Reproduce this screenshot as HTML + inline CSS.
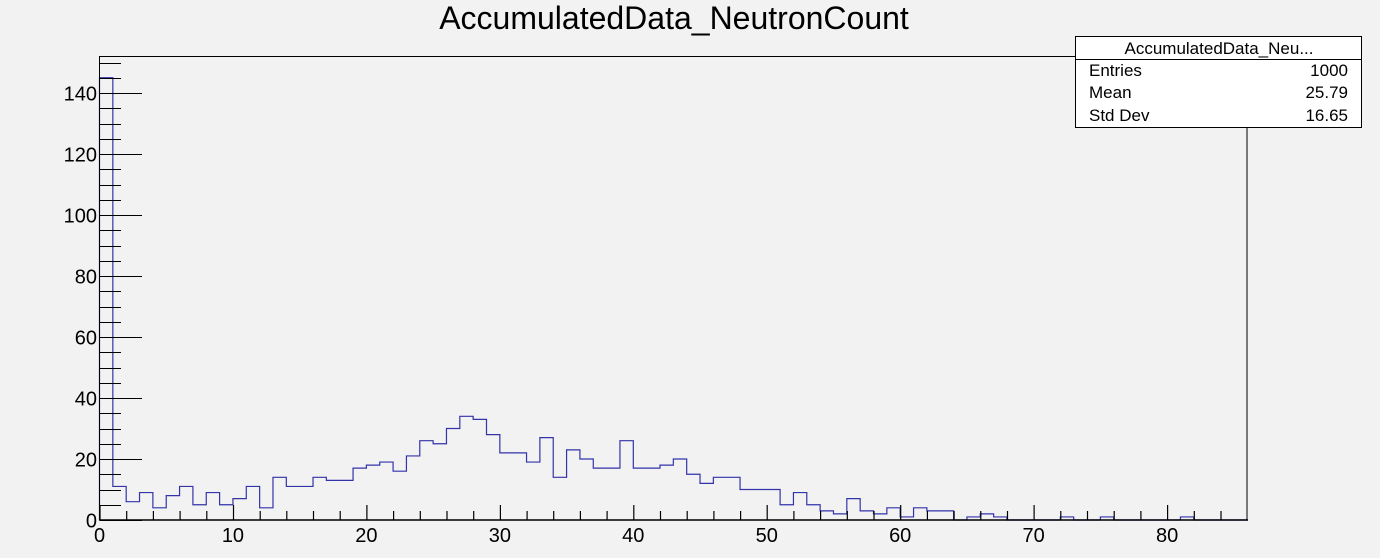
<!DOCTYPE html>
<html><head><meta charset="utf-8"><style>
body{margin:0;background:#f2f2f2;}
svg{display:block;font-family:"Liberation Sans",sans-serif;}
</style></head><body>
<svg id="s" width="1380" height="558" xmlns="http://www.w3.org/2000/svg">
<rect width="1380" height="558" fill="#f2f2f2"/>
<text x="674" y="29" font-size="32" text-anchor="middle" fill="#000">AccumulatedData_NeutronCount</text>
<path id="h" fill="none" stroke="#3333aa" stroke-width="1.2"/>
<rect x="99.5" y="56.5" width="1147.5" height="463.5" fill="none" stroke="#000" stroke-width="1"/>
<line x1="99" y1="520" x2="1248" y2="520" stroke="#000" stroke-width="1.5"/>
<g stroke="#000" stroke-width="1.2">
<line x1="100" y1="520" x2="100" y2="505"/><line x1="126.7" y1="520" x2="126.7" y2="511"/><line x1="153.4" y1="520" x2="153.4" y2="511"/><line x1="180.1" y1="520" x2="180.1" y2="511"/><line x1="206.8" y1="520" x2="206.8" y2="511"/>
<line x1="233.5" y1="520" x2="233.5" y2="505"/><line x1="260.2" y1="520" x2="260.2" y2="511"/><line x1="286.8" y1="520" x2="286.8" y2="511"/><line x1="313.5" y1="520" x2="313.5" y2="511"/><line x1="340.2" y1="520" x2="340.2" y2="511"/>
<line x1="366.9" y1="520" x2="366.9" y2="505"/><line x1="393.6" y1="520" x2="393.6" y2="511"/><line x1="420.3" y1="520" x2="420.3" y2="511"/><line x1="447" y1="520" x2="447" y2="511"/><line x1="473.7" y1="520" x2="473.7" y2="511"/>
<line x1="500.4" y1="520" x2="500.4" y2="505"/><line x1="527.1" y1="520" x2="527.1" y2="511"/><line x1="553.7" y1="520" x2="553.7" y2="511"/><line x1="580.4" y1="520" x2="580.4" y2="511"/><line x1="607.1" y1="520" x2="607.1" y2="511"/>
<line x1="633.8" y1="520" x2="633.8" y2="505"/><line x1="660.5" y1="520" x2="660.5" y2="511"/><line x1="687.2" y1="520" x2="687.2" y2="511"/><line x1="713.9" y1="520" x2="713.9" y2="511"/><line x1="740.6" y1="520" x2="740.6" y2="511"/>
<line x1="767.2" y1="520" x2="767.2" y2="505"/><line x1="793.9" y1="520" x2="793.9" y2="511"/><line x1="820.6" y1="520" x2="820.6" y2="511"/><line x1="847.3" y1="520" x2="847.3" y2="511"/><line x1="874" y1="520" x2="874" y2="511"/>
<line x1="900.7" y1="520" x2="900.7" y2="505"/><line x1="927.4" y1="520" x2="927.4" y2="511"/><line x1="954.1" y1="520" x2="954.1" y2="511"/><line x1="980.8" y1="520" x2="980.8" y2="511"/><line x1="1007.5" y1="520" x2="1007.5" y2="511"/>
<line x1="1034.1" y1="520" x2="1034.1" y2="505"/><line x1="1060.8" y1="520" x2="1060.8" y2="511"/><line x1="1087.5" y1="520" x2="1087.5" y2="511"/><line x1="1114.2" y1="520" x2="1114.2" y2="511"/><line x1="1140.9" y1="520" x2="1140.9" y2="511"/>
<line x1="1167.6" y1="520" x2="1167.6" y2="505"/><line x1="1194.3" y1="520" x2="1194.3" y2="511"/><line x1="1221" y1="520" x2="1221" y2="511"/>
</g>
<path id="tk" fill="none" stroke="#000" stroke-width="1"/>
<g id="lab" font-size="20" fill="#000"></g>
<rect x="1075.5" y="36.5" width="286" height="91" fill="#fff" stroke="#000"/>
<line x1="1075.5" y1="59.5" x2="1361.5" y2="59.5" stroke="#000"/>
<text x="1219" y="54" font-size="17" text-anchor="middle">AccumulatedData_Neu...</text>
<text x="1089" y="76" font-size="17">Entries</text><text x="1348" y="76" font-size="17" text-anchor="end">1000</text>
<text x="1089" y="98" font-size="17">Mean</text><text x="1348" y="98" font-size="17" text-anchor="end">25.79</text>
<text x="1089" y="121" font-size="17">Std Dev</text><text x="1348" y="121" font-size="17" text-anchor="end">16.65</text>
</svg>
<script>
var v=[145,11,6,9,4,8,11,5,9,5,7,11,4,14,11,11,14,13,13,17,18,19,16,21,26,25,30,34,33,28,22,22,19,27,14,23,20,17,17,26,17,17,18,20,15,12,14,14,10,10,10,5,9,5,3,2,7,3,2,4,1,4,3,3,0,1,2,1,0,0,0,0,1,0,0,1,0,0,0,0,0,1,0,0,0,0];
function X(a){return 99.5+a*13.345;}
function Y(c){return 520-c*3.05;}
var d="M"+X(0)+" "+Y(0);
for(var i=0;i<86;i++){d+=" L"+X(i)+" "+Y(v[i])+" L"+X(i+1)+" "+Y(v[i]);}
d+=" L"+X(86)+" "+Y(0);
document.getElementById('h').setAttribute('d',d);
var lab=document.getElementById('lab'),ns="http://www.w3.org/2000/svg";
function tx(x,y,s,anc){var t=document.createElementNS(ns,'text');t.setAttribute('x',x);t.setAttribute('y',y);t.setAttribute('text-anchor',anc);t.textContent=String(s);lab.appendChild(t);}
var t="";
for(var k=0;k<=80;k+=10){tx(X(k),542,k,'middle');}
for(var c=0;c<=150;c+=5){var y=Math.round(Y(c))+0.5;t+=" M100 "+y+" L"+(c%20==0?142:121)+" "+y;if(c%20==0)tx(97,y+7,c,'end');}
document.getElementById('tk').setAttribute('d',t);
</script>
</body></html>
